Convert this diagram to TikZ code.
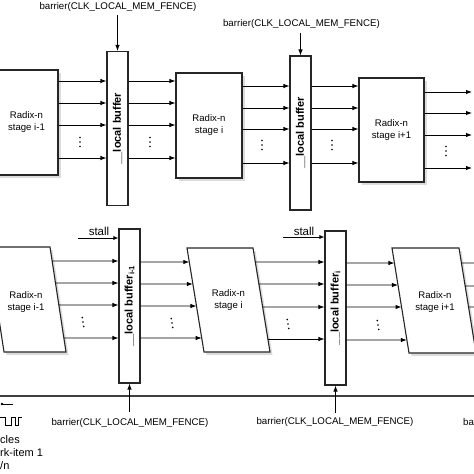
\documentclass[tikz,border=0pt]{standalone}
\usepackage{fontspec}
\setmainfont{Liberation Sans}
\usetikzlibrary{arrows.meta,shadows,calc}
\begin{document}
\begin{tikzpicture}[x=1pt,y=-1pt,
  stage/.style={draw=black!85, line width=1.1pt, fill=white,
    drop shadow={opacity=0.28, shadow xshift=2.5pt, shadow yshift=-3pt}},
  buf/.style={draw=black!85, line width=1.1pt, fill=white,
    minimum width=21pt, minimum height=154pt, inner sep=0pt},
  arr/.style={-{Latex[length=6pt,width=4.5pt]}, line width=0.9pt},
  lbl/.style={font=\fontsize{9.7}{11}\selectfont, inner sep=0pt},
  rad/.style={font=\fontsize{9.6}{12}\selectfont, align=center, inner sep=0pt},
  buftxt/.style={font=\bfseries\fontsize{11}{12}\selectfont, rotate=90, inner sep=0pt},
  stalltxt/.style={font=\fontsize{11.5}{12}\selectfont, inner sep=0pt},
  legtxt/.style={font=\fontsize{11}{13}\selectfont, inner sep=0pt, anchor=west}]
\useasboundingbox (0,0) rectangle (474,474);
\clip (0,0) rectangle (474,474);

% ---------------- top row ----------------
\node[stage, minimum width=63pt, minimum height=105pt] (A) at (26.5,122.5) {};
\node[rad] (At) at (A.center) {Radix-n\\stage i-1};
\node[stage, minimum width=66pt, minimum height=105pt] (B) at (209,125.5) {};
\node[rad] (Bt) at (B.center) {Radix-n\\stage i};
\node[stage, minimum width=65pt, minimum height=104pt] (C) at (391.5,130) {};
\node[rad] (Ct) at (C.center) {Radix-n\\stage i+1};

\node[buf] (B1) at (117.5,128.5) {};
\node[buftxt] at (B1.center) {\_\_local buffer};
\node[buf] (B2) at (300.5,133) {};
\node[buftxt] at (B2.center) {\_\_local buffer};

\node[lbl] (L1) at (118,7) {barrier(CLK\_LOCAL\_MEM\_FENCE)};
\node[lbl] (L2) at (301.5,24) {barrier(CLK\_LOCAL\_MEM\_FENCE)};
\draw[arr] (B1.north |- 0,15) -- (B1.north);
\draw[arr] (B2.north |- 0,33) -- (B2.north);

\foreach \y in {81,103,125,158}{
  \draw[arr] (A.east |- 0,\y) -- (B1.west |- 0,\y);
  \draw[arr] (B1.east |- 0,\y) -- (B.west |- 0,\y);
}
\foreach \y in {86,108,129,163}{
  \draw[arr] (B.east |- 0,\y) -- (B2.west |- 0,\y);
  \draw[arr] (B2.east |- 0,\y) -- (C.west |- 0,\y);
}
\coordinate (Cout) at (472,0);
\foreach \y in {92,113,135,168}{
  \draw[arr] (C.east |- 0,\y) -- (Cout |- 0,\y);
}

% vertical ellipsis dots
\foreach \x/\y/\r in {80/142/0, 150/142/0, 262/145/0, 332/145/0, 446/151/0,
                      83/322/9, 172/323/9, 288/324/9, 378/325/9}{
  \begin{scope}[shift={(\x,\y)}, rotate=\r]
    \fill (0,-4.5) circle (0.9pt) (0,0) circle (0.9pt) (0,4.5) circle (0.9pt);
  \end{scope}
}

% ---------------- bottom row ----------------
\coordinate (P1tl) at (-12,247); \coordinate (P1tr) at (50,247);
\coordinate (P1br) at (66,352);  \coordinate (P1bl) at (4,352);
\coordinate (P2tl) at (187,248); \coordinate (P2tr) at (253,248);
\coordinate (P2br) at (270,352); \coordinate (P2bl) at (204,352);
\coordinate (P3tl) at (392,248); \coordinate (P3tr) at (459,248);
\coordinate (P3br) at (476,353); \coordinate (P3bl) at (409,353);

\path[stage] (P1tl) -- (P1tr) -- (P1br) -- (P1bl) -- cycle;
\path[stage] (P2tl) -- (P2tr) -- (P2br) -- (P2bl) -- cycle;
\path[stage] (P3tl) -- (P3tr) -- (P3br) -- (P3bl) -- cycle;
\node[rad] (P1t) at (26,302) {Radix-n\\stage i-1};
\node[rad] (P2t) at (228.5,300) {Radix-n\\stage i};
\node[rad] (P3t) at (435,302) {Radix-n\\stage i+1};

\node[buf] (B3) at (129.5,306) {};
\node[buftxt] at (B3.center) {\_\_local buffer\textsubscript{i-1}};
\node[buf] (B4) at (335.5,308) {};
\node[buftxt] at (B4.center) {\_\_local buffer\textsubscript{i}};

\node[stalltxt] (S1) at (99,231) {stall};
\node[stalltxt] (S2) at (304,231) {stall};
\coordinate (S1s) at (78,238);
\coordinate (S2s) at (283,237);
\draw[-{Latex[length=5pt,width=4pt]}, line width=0.7pt] (S1s) -- (B3.west |- S1s);
\draw[-{Latex[length=5pt,width=4pt]}, line width=0.7pt] (S2s) -- (B4.west |- S2s);

\foreach \y in {261,283,305,338}{
  \draw[arr] ($(P1tr)!{(\y-247)/105}!(P1br)$) -- (B3.west |- 0,\y);
}
\foreach \y in {262,284,306,338}{
  \draw[arr] (B3.east |- 0,\y) -- ($(P2tl)!{(\y-248)/104}!(P2bl)$);
}
\foreach \y in {262,284,307,339}{
  \draw[arr] ($(P2tr)!{(\y-248)/104}!(P2br)$) -- (B4.west |- 0,\y);
}
\foreach \y in {263,285,307,340}{
  \draw[arr] (B4.east |- 0,\y) -- ($(P3tl)!{(\y-248)/105}!(P3bl)$);
}
\coordinate (Pout) at (480,0);
\foreach \y in {263,286,307}{
  \draw[line width=0.9pt] ($(P3tr)!{(\y-248)/105}!(P3br)$) -- (Pout |- 0,\y);
}

% separator line
\draw[line width=1.5pt, black!75] (0,396) -- (474,396);

% bottom barrier labels
\node[lbl] (L3) at (130,423) {barrier(CLK\_LOCAL\_MEM\_FENCE)};
\node[lbl] (L4) at (335,422) {barrier(CLK\_LOCAL\_MEM\_FENCE)};
\node[lbl, anchor=west] (L5) at (463,422) {ba};
\draw[arr] (B3.south |- 0,412) -- (B3.south);
\draw[arr] (B4.south |- 0,413) -- (B4.south);

% legend fragment
\fill (2,404) circle (1.3pt);
\draw[line width=0.8pt] (2,404) -- (13,404);
\draw[line width=0.8pt] (-1,417) -- (5,417) -- (5,425) -- (11,425) -- (11,417) -- (15,417) -- (15,425) -- (18,425) -- (18,417) -- (22,417);
\node[legtxt] at (0,440) {cles};
\node[legtxt] at (0,453) {rk-item 1};
\node[legtxt] at (0,466) {/n};
\end{tikzpicture}
\end{document}
